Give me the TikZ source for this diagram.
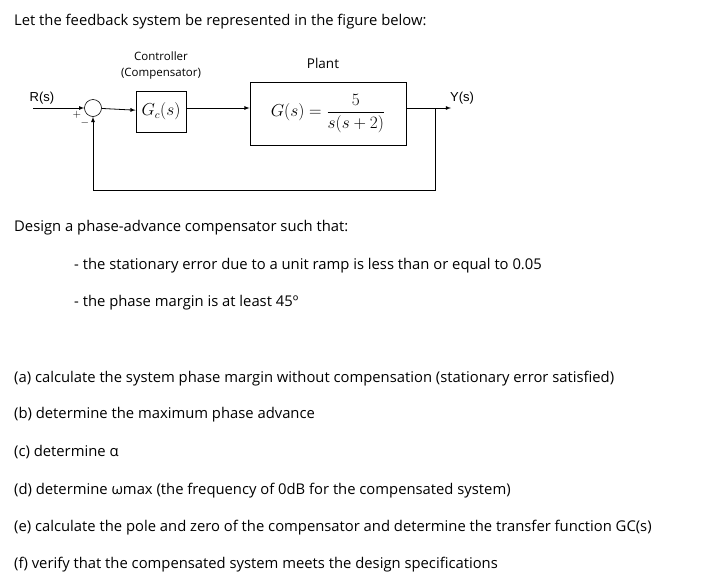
\documentclass[tikz,border=0pt]{standalone}
\usepackage{fontspec}
\setmainfont{Open Sans}
\newfontfamily\arialf{Liberation Sans}
\begin{document}
\begin{tikzpicture}[x=1pt,y=-1pt,
 txt/.style={anchor=west,inner sep=0,font=\fontsize{14.8}{17}\selectfont},
 blk/.style={draw,line width=0.8pt,inner sep=0},
 lbl/.style={inner sep=0,font=\arialf\fontsize{13}{14}\selectfont},
 sig/.style={line width=0.8pt,-latex}]
\useasboundingbox[fill=white] (0,0) rectangle (716,587);
\node[txt] (t1) at (14,22) {Let the feedback system be represented in the figure below:};
\node[inner sep=0,font=\fontsize{11.5}{14}\selectfont,align=center] (ctl) at (161,66) {Controller\\[2pt](Compensator)};
\node[inner sep=0,font=\fontsize{13.5}{16}\selectfont] (pl) at (323,63) {Plant};
\node[lbl] (r) at (42,98) {R(s)};
\node[lbl] (y) at (462,98) {Y(s)};
\node[draw,circle,minimum size=17pt,inner sep=0,line width=0.6pt] (sum) at (93,108) {};
\node[blk,minimum width=50pt,minimum height=41pt,font=\fontsize{16}{18}\selectfont] (gc) at (161,111.5) {$G_c(s)$};
\node[blk,minimum width=156pt,minimum height=63pt,font=\fontsize{17}{20}\selectfont] (g) at (328,113.5) {$\displaystyle G(s)=\frac{5}{s(s+2)}$};
\coordinate (rin) at (33,108);
\coordinate (br) at (435,108);
\coordinate (yout) at (451,108);
\coordinate (fb1) at (435,190);
\coordinate (fb2) at (93,190);
\draw[sig] (rin) -- (sum);
\draw[sig] (sum) -- (gc);
\draw[sig] (gc.east|-sum) -- (g.west|-sum);
\draw[sig] (g.east|-sum) -- (yout);
\draw[line width=0.8pt,-latex] (br) -- (fb1) -- (fb2) -- (sum);
\node[inner sep=0,font=\fontsize{11}{12}\selectfont] (pm) at (77,115) {$+$};
\node[inner sep=0,font=\fontsize{11}{12}\selectfont] (mm) at (85,123) {$-$};
\node[txt] (t2) at (14,228) {Design a phase-advance compensator such that:};
\node[txt] (t3) at (74,266) {- the stationary error due to a unit ramp is less than or equal to 0.05};
\node[txt] (t4) at (74,303) {- the phase margin is at least 45º};
\node[txt] (a) at (14,379) {(a) calculate the system phase margin without compensation (stationary error satisfied)};
\node[txt] (b) at (14,415) {(b) determine the maximum phase advance};
\node[txt] (c) at (14,452) {(c) determine α};
\node[txt] (d) at (14,491) {(d) determine ωmax (the frequency of 0dB for the compensated system)};
\node[txt] (e) at (14,528) {(e) calculate the pole and zero of the compensator and determine the transfer function GC(s)};
\node[txt] (f) at (14,565) {(f) verify that the compensated system meets the design specifications};
\end{tikzpicture}
\end{document}
